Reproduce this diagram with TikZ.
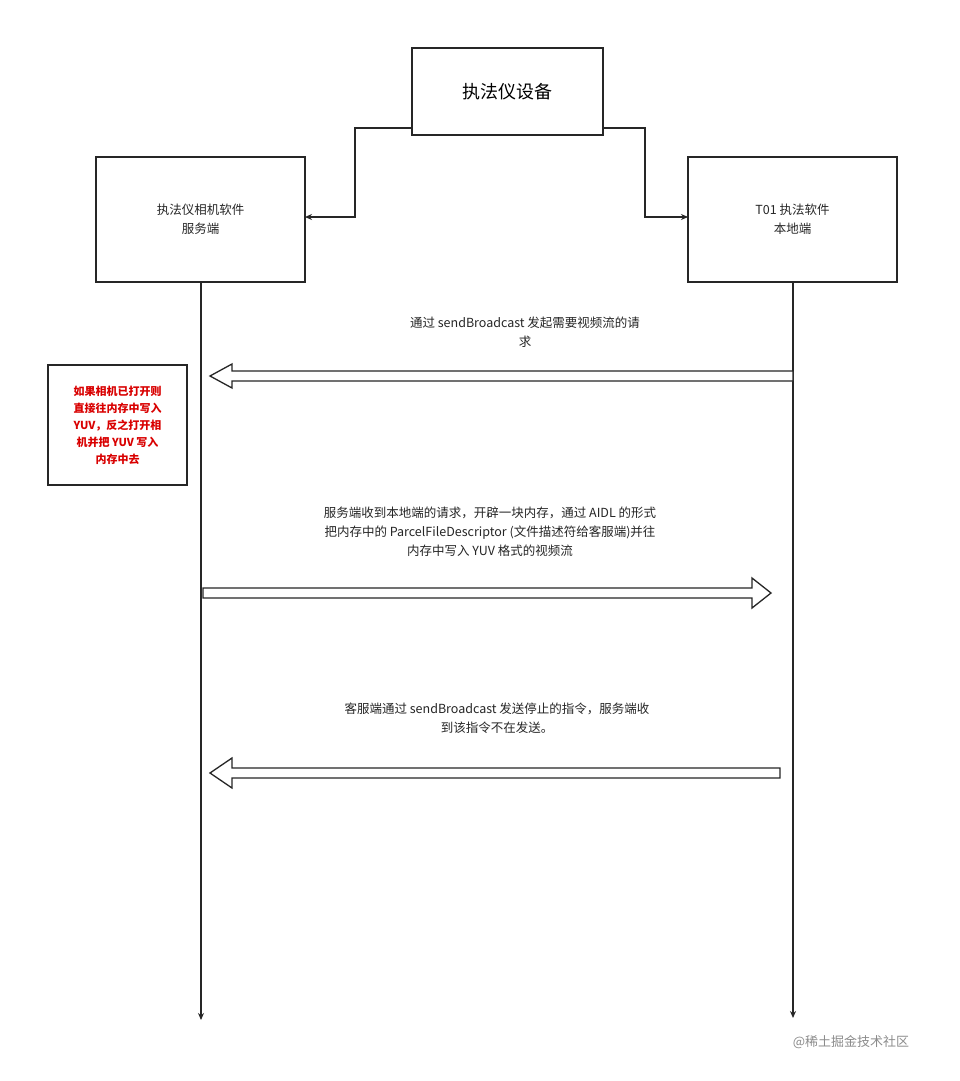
\documentclass[tikz,border=0pt]{standalone}
\usepackage{fontspec}
\setmainfont{Noto Sans CJK SC}
\usetikzlibrary{arrows.meta}
\tikzset{
  box/.style={draw=black!85,line width=1.3pt,fill=white,inner sep=0pt},
  lbl/.style={font=\fontsize{12.5}{19}\selectfont,align=center,text=black!85},
  conn/.style={line width=1.3pt,draw=black!85,-{Stealth[length=7pt,width=6pt]}},
  fat/.style={draw=black!85,line width=1.3pt,fill=white,line join=miter}
}
\begin{document}
\begin{tikzpicture}[x=1pt,y=-1pt]
\useasboundingbox (0,0) rectangle (960,1081);
\fill[white] (0,0) rectangle (960,1081);
\node[box,minimum width=191pt,minimum height=87pt] (dev) at (507.5,91.5) {\fontsize{18}{22}\selectfont 执法仪设备};
\node[box,minimum width=209pt,minimum height=125pt,lbl] (srv) at (200.5,219.5) {执法仪相机软件\\服务端};
\node[box,minimum width=209pt,minimum height=125pt,lbl] (loc) at (792.5,219.5) {T01 执法软件\\本地端};
\coordinate (dl) at (412,128);
\coordinate (dr) at (603,128);
\coordinate (sl) at (305,217);
\coordinate (sr) at (688,217);
\draw[conn] (dl) -| (355,217) -- (sl);
\draw[conn] (dr) -| (645,217) -- (sr);
\coordinate (ls) at (201,282);
\coordinate (le) at (201,1020);
\coordinate (rs) at (793,282);
\coordinate (re) at (793,1018);
\draw[conn] (ls) -- (le);
\draw[conn] (rs) -- (re);
\draw[fat] (793,371) -- (232,371) -- (232,364) -- (210,376) -- (232,388) -- (232,381) -- (793,381) -- cycle;
\draw[fat] (203,588) -- (752,588) -- (752,578) -- (771,593) -- (752,608) -- (752,598) -- (203,598) -- cycle;
\draw[fat] (780,768) -- (232,768) -- (232,758) -- (210,773) -- (232,788) -- (232,778) -- (780,778) -- cycle;
\node[lbl] (t1) at (525,332) {通过 sendBroadcast 发起需要视频流的请\\求};
\node[lbl] (t2) at (490,532) {服务端收到本地端的请求，开辟一块内存，通过 AIDL 的形式\\把内存中的 ParcelFileDescriptor (文件描述符给客服端)并往\\内存中写入 YUV 格式的视频流};
\node[lbl] (t3) at (497,718) {客服端通过 sendBroadcast 发送停止的指令，服务端收\\到该指令不在发送。};
\node[draw=black!85,line width=1.3pt,minimum width=139pt,minimum height=120pt,align=center,text=red!85!black,font=\bfseries\fontsize{11}{17}\selectfont] (note) at (117.5,425) {如果相机已打开则\\直接往内存中写入\\YUV，反之打开相\\机并把 YUV 写入\\内存中去};
\node[text=black!45,font=\fontsize{13}{15}\selectfont] (wm) at (851,1042) {@稀土掘金技术社区};
\end{tikzpicture}
\end{document}
